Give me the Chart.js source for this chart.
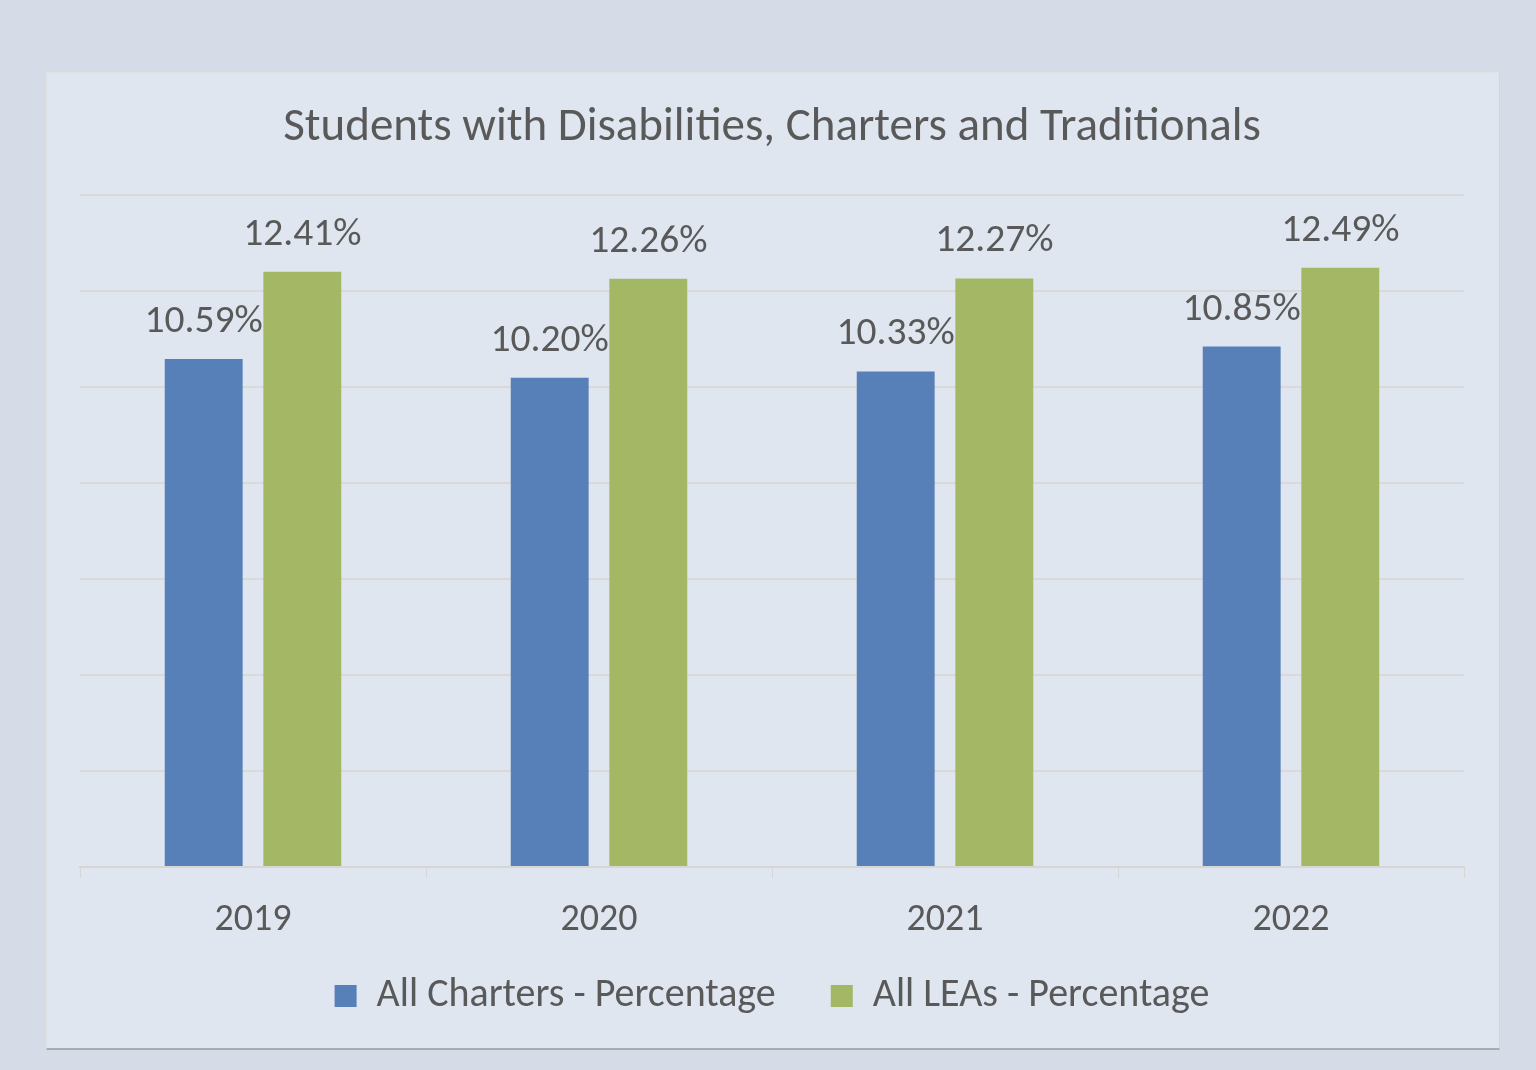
<!DOCTYPE html>
<html>
<head>
<meta charset="utf-8">
<script src="https://cdn.jsdelivr.net/npm/chart.js@4.4.1/dist/chart.umd.min.js"></script>
<style>
  html, body { margin: 0; padding: 0; background: #d5dce7; width: 1536px; height: 1070px; overflow: hidden; }
  #panel {
    position: absolute; left: 46px; top: 72px; width: 1452px; height: 975px;
    background: #dfe6f0;
    border-top: 1px solid #e2e2e4; border-left: 1px solid #e2e2e4;
    border-right: 1px solid #d2d5da; border-bottom: 2px solid #a8abb0;
  }
  #wrap { position: absolute; left: 0; top: 0; width: 1452px; height: 975px; }
</style>
</head>
<body>
<div id="panel"><div id="wrap"><canvas id="c"></canvas></div></div>
<script>
const categories = ["2019", "2020", "2021", "2022"];
const chartersPct = [10.59, 10.20, 10.33, 10.85];
const leasPct = [12.41, 12.26, 12.27, 12.49];
const seriesNames = ["All Charters - Percentage", "All LEAs - Percentage"];
const yTicks = [0, 2, 4, 6, 8, 10, 12, 14];
const titleText = "Students with Disabilities, Charters and Traditionals";

const FONT = "Carlito, Calibri, 'Open Sans', sans-serif";
const TEXT = "#595959";

const labelPlugin = {
  id: "barLabels",
  afterLayout(chart) {
    // let the category labels draw below the compact axis box without being clipped
    const x = chart.scales.x;
    if (x) x.bottom = chart.height;
  },
  afterDatasetsDraw(chart) {
    const ctx = chart.ctx;
    ctx.save();
    ctx.font = "39.5px " + FONT;
    ctx.fillStyle = TEXT;
    ctx.textAlign = "center";
    ctx.textBaseline = "alphabetic";
    chart.data.datasets.forEach((ds, i) => {
      const meta = chart.getDatasetMeta(i);
      meta.data.forEach((bar, j) => {
        ctx.fillText(ds.data[j].toFixed(2) + "%", bar.x, bar.y - 27);
      });
    });
    ctx.restore();
  }
};

new Chart(document.getElementById("c"), {
  type: "bar",
  data: {
    labels: categories,
    datasets: [
      { label: seriesNames[0], data: chartersPct, backgroundColor: "#5880b8", borderWidth: 0 },
      { label: seriesNames[1], data: leasPct, backgroundColor: "#a3b764", borderWidth: 0 }
    ]
  },
  options: {
    responsive: true,
    maintainAspectRatio: false,
    animation: false,
    devicePixelRatio: 1,
    layout: { padding: { left: 33, right: 35, top: 0, bottom: 22 } },
    datasets: { bar: { categoryPercentage: 0.57, barPercentage: 0.79 } },
    plugins: {
      title: {
        display: true, text: titleText, color: TEXT,
        font: { family: FONT, size: 47, weight: "normal" },
        padding: { top: 27, bottom: 39 }
      },
      legend: {
        position: "bottom",
        labels: {
          color: TEXT, font: { family: FONT, size: 40 },
          boxWidth: 22, boxHeight: 22, padding: 55
        }
      },
      tooltip: { enabled: false }
    },
    scales: {
      x: {
        afterFit(axis) { axis.height = 54; },
        grid: { display: true, drawOnChartArea: false, drawTicks: true, tickLength: 11, color: "#d6d6d6", offset: true },
        border: { display: true, color: "#d6d6d6", width: 2 },
        ticks: { color: TEXT, font: { family: FONT, size: 38 }, padding: 20 }
      },
      y: {
        min: 0, max: 14,
        afterBuildTicks(axis) { axis.ticks = yTicks.map(v => ({ value: v })); },
        ticks: { display: false },
        grid: { drawTicks: false, color: "#d9d9d9", lineWidth: 2 },
        border: { display: false }
      }
    }
  },
  plugins: [labelPlugin]
});
</script>
</body>
</html>
